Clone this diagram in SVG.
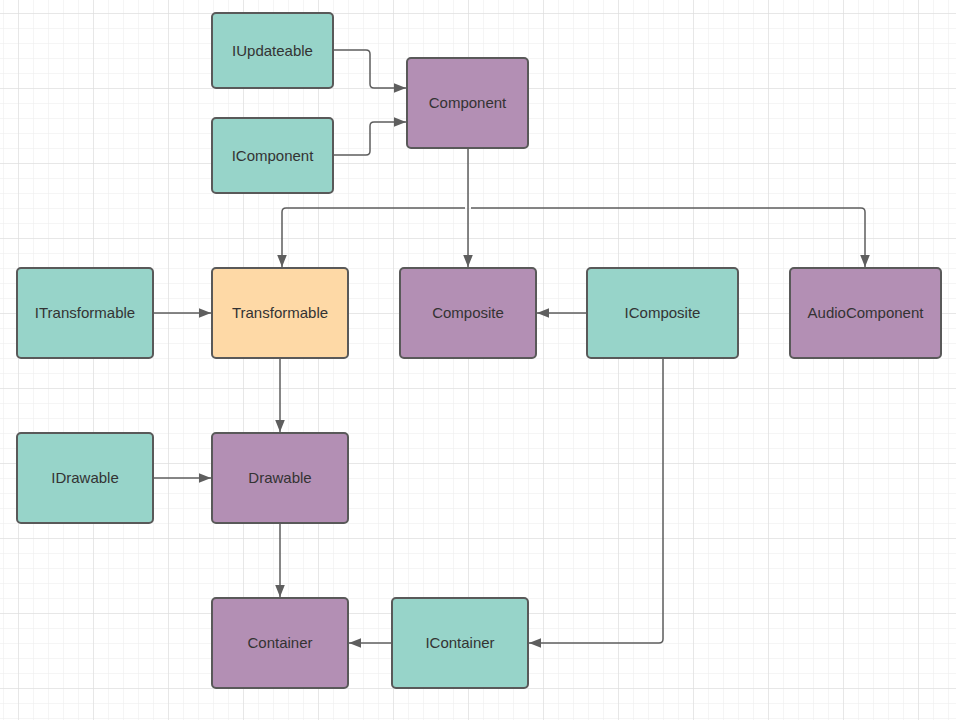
<svg xmlns="http://www.w3.org/2000/svg" width="956" height="720" viewBox="0 0 956 720">
<defs>
<pattern id="minor" width="15" height="15" patternUnits="userSpaceOnUse" x="3" y="13"><path d="M0 0H15M0 0V15" fill="none" stroke="#ececec" stroke-width="1"/></pattern>
<pattern id="major" width="75" height="75" patternUnits="userSpaceOnUse" x="18" y="13"><path d="M0 0H75M0 0V75" fill="none" stroke="#dadada" stroke-width="1"/></pattern>
<marker id="arr" viewBox="0 0 10 10" refX="10" refY="5" markerWidth="12" markerHeight="12" markerUnits="userSpaceOnUse" orient="auto"><path d="M0 1L10 5L0 9Z" fill="#5e5e5e"/></marker>
</defs>
<style>
.n rect{stroke:#595959;stroke-width:2}
.t{fill:#97d4c9}.p{fill:#b38fb4}.o{fill:#fed9a6}
text{font-family:"Liberation Sans",Arial,sans-serif;font-size:15px;fill:#333;text-anchor:middle;dominant-baseline:central}
.c path{fill:none;stroke:#5e5e5e;stroke-width:1.5;marker-end:url(#arr)}
</style>
<rect width="956" height="720" fill="#fff"/>
<rect width="956" height="720" fill="url(#minor)"/>
<rect width="956" height="720" fill="url(#major)"/>
<g class="c">
<path d="M333 50H366Q370 50 370 54V84Q370 88 374 88H406"/>
<path d="M333 155H366Q370 155 370 151V126Q370 122 374 122H406"/>
<path d="M468 148V267"/>
<path d="M465 208H286Q282 208 282 212V267"/>
<path d="M471 208H861Q865 208 865 212V267"/>
<path d="M153 313H211"/>
<path d="M587 313H537"/>
<path d="M280 358V432"/>
<path d="M153 478H211"/>
<path d="M280 523V597"/>
<path d="M663 358V639Q663 643 659 643H529"/>
<path d="M392 643H349"/>
</g>
<g id="IUpdateable" class="n"><rect class="t" x="212" y="13" width="121" height="75" rx="4"/><text x="272.500" y="50">IUpdateable</text></g>
<g id="IComponent" class="n"><rect class="t" x="212" y="118" width="121" height="75" rx="4"/><text x="272.500" y="155">IComponent</text></g>
<g id="Component" class="n"><rect class="p" x="407" y="58" width="121" height="90" rx="4"/><text x="467.500" y="102">Component</text></g>
<g id="ITransformable" class="n"><rect class="t" x="17" y="268" width="136" height="90" rx="4"/><text x="85" y="312">ITransformable</text></g>
<g id="Transformable" class="n"><rect class="o" x="212" y="268" width="136" height="90" rx="4"/><text x="280" y="312">Transformable</text></g>
<g id="Composite" class="n"><rect class="p" x="400" y="268" width="136" height="90" rx="4"/><text x="468" y="312">Composite</text></g>
<g id="IComposite" class="n"><rect class="t" x="587" y="268" width="151" height="90" rx="4"/><text x="662.500" y="312">IComposite</text></g>
<g id="AudioComponent" class="n"><rect class="p" x="790" y="268" width="151" height="90" rx="4"/><text x="865.500" y="312">AudioComponent</text></g>
<g id="IDrawable" class="n"><rect class="t" x="17" y="433" width="136" height="90" rx="4"/><text x="85" y="477">IDrawable</text></g>
<g id="Drawable" class="n"><rect class="p" x="212" y="433" width="136" height="90" rx="4"/><text x="280" y="477">Drawable</text></g>
<g id="Container" class="n"><rect class="p" x="212" y="598" width="136" height="90" rx="4"/><text x="280" y="642">Container</text></g>
<g id="IContainer" class="n"><rect class="t" x="392" y="598" width="136" height="90" rx="4"/><text x="460" y="642">IContainer</text></g>
</svg>
